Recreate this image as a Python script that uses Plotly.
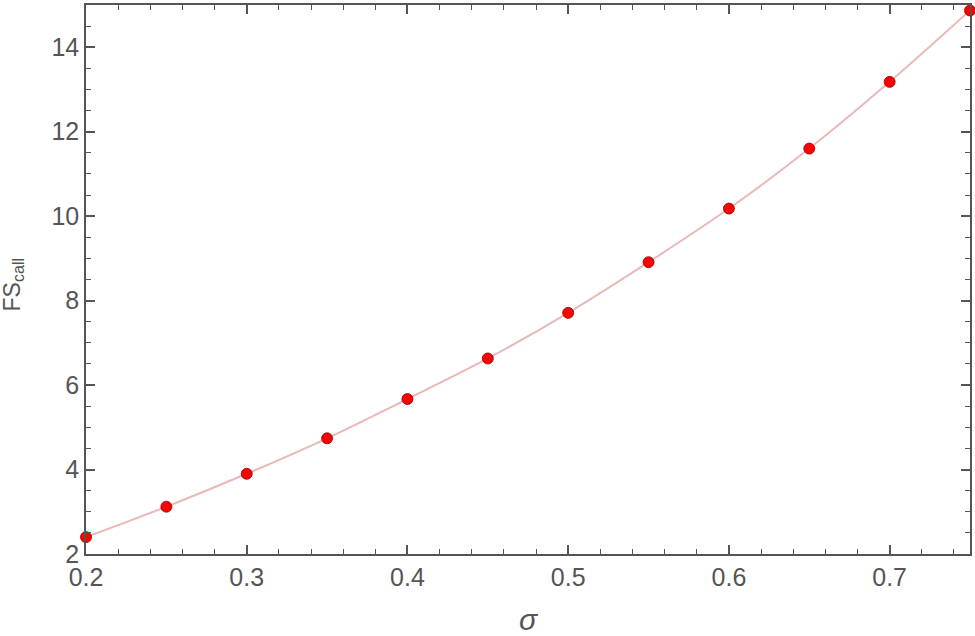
import plotly.graph_objects as go

# sigma values and FS_call
sigma = [0.2, 0.25, 0.3, 0.35, 0.4, 0.45, 0.5, 0.55, 0.6, 0.65, 0.7, 0.75]
fs_call = [2.40, 3.12, 3.90, 4.74, 5.67, 6.63, 7.71, 8.91, 10.18, 11.60, 13.18, 14.87]

axis_col = "#555555"
font_col = "#555555"

fig = go.Figure()
fig.add_trace(go.Scatter(x=sigma, y=fs_call, mode="lines",
                         line=dict(color="#e9b8b8", width=2, shape="spline"),
                         hoverinfo="skip"))
fig.add_trace(go.Scatter(x=sigma, y=fs_call, mode="markers",
                         marker=dict(color="#ff0000", size=11,
                                     line=dict(color="#8a0000", width=0.8)),
                         cliponaxis=False))

fig.update_layout(
    width=975, height=636,
    margin=dict(l=86, r=5, t=5, b=82),
    paper_bgcolor="white", plot_bgcolor="white",
    showlegend=False,
    font=dict(family="Liberation Sans, Arial", color=font_col, size=25),
    xaxis=dict(range=[0.2, 0.75], tickmode="linear", tick0=0.2, dtick=0.1,
               tickformat=".1f",
               ticks="inside", ticklen=9, tickcolor=axis_col, tickwidth=1.5,
               minor=dict(dtick=0.02, ticks="inside", ticklen=5,
                          tickcolor=axis_col, tickwidth=1.2),
               showline=True, linecolor=axis_col, linewidth=1.5, mirror="ticks",
               showgrid=False, zeroline=False, automargin=False,
               title=dict(text="<i>σ</i>", standoff=22, font=dict(size=30))),
    yaxis=dict(range=[2, 15], tickmode="linear", tick0=2, dtick=2,
               ticks="inside", ticklen=9, tickcolor=axis_col, tickwidth=1.5,
               minor=dict(dtick=0.5, ticks="inside", ticklen=5,
                          tickcolor=axis_col, tickwidth=1.2),
               showline=True, linecolor=axis_col, linewidth=1.5, mirror="ticks",
               showgrid=False, zeroline=False, automargin=False),
)

# y label placed by hand, further left than plotly puts the axis title
fig.add_annotation(text="FS<sub>call</sub>", xref="paper", yref="paper",
                   x=-0.082, y=0.49, xanchor="center", yanchor="middle",
                   textangle=-90, showarrow=False, font=dict(size=23, color=font_col))

fig.write_html("out.html", config={"displayModeBar": False},
               post_script="document.body.style.margin='0';")
